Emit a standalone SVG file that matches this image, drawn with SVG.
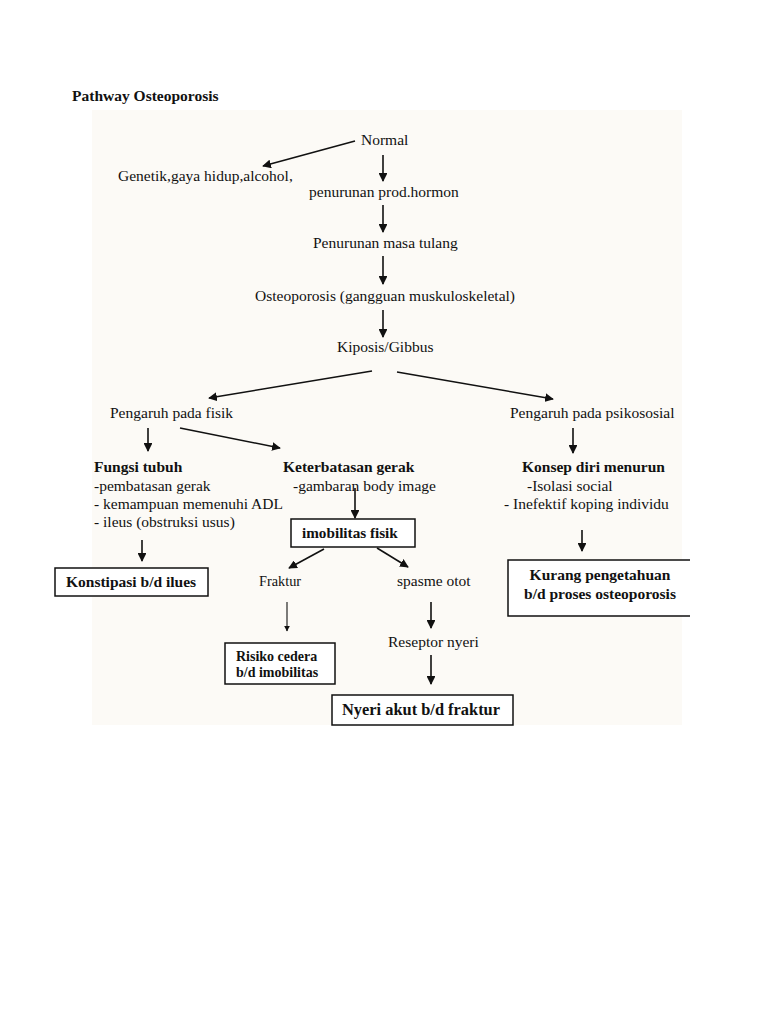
<svg xmlns="http://www.w3.org/2000/svg" width="768" height="1024" viewBox="0 0 768 1024">
<style>
text{font-family:"Liberation Serif","Times New Roman",serif;fill:#111}
.t{font-size:15.5px}
.b{font-size:15.5px;font-weight:bold}
.s{font-size:15.5px}
.sb{font-size:14px;font-weight:bold}
.c line{stroke:#111;stroke-width:1.6;marker-end:url(#ah)}
.box{fill:#fff;stroke:#111;stroke-width:1.5}
</style>
<defs>
<marker id="ah" viewBox="0 0 10 10" refX="9" refY="5" markerWidth="5.5" markerHeight="5.5" orient="auto" markerUnits="strokeWidth">
<path d="M0,0 L10,5 L0,10 z" fill="#111"/>
</marker>
</defs>
<rect width="768" height="1024" fill="#fff"/>
<rect x="92" y="110" width="590" height="615" fill="#fcfaf6"/>
<text x="72" y="101" class="b" id="title">Pathway Osteoporosis</text>

<g class="c" id="connectors">
<line x1="355" y1="141" x2="263" y2="166"/>
<line x1="383" y1="155" x2="383" y2="181"/>
<line x1="383" y1="205" x2="383" y2="232"/>
<line x1="383" y1="256" x2="383" y2="284"/>
<line x1="383" y1="310" x2="383" y2="337"/>
<line x1="372" y1="371" x2="209" y2="398"/>
<line x1="397" y1="372" x2="553" y2="399"/>
<line x1="148" y1="428" x2="148" y2="451"/>
<line x1="180" y1="428" x2="280" y2="448"/>
<line x1="573" y1="428" x2="573" y2="453"/>
<line x1="355" y1="488" x2="355" y2="518"/>
<line x1="142" y1="540" x2="142" y2="561"/>
<line x1="582" y1="530" x2="582" y2="551"/>
<line x1="324" y1="549" x2="289" y2="568"/>
<line x1="377" y1="548" x2="408" y2="567"/>
<line x1="287" y1="602" x2="287" y2="631" style="stroke-width:1.1"/>
<line x1="431" y1="602" x2="431" y2="628"/>
<line x1="431" y1="655" x2="431" y2="684"/>
</g>

<g id="normal"><text x="361" y="145" class="t">Normal</text></g>
<g id="genetik"><text x="118" y="181" class="t">Genetik,gaya hidup,alcohol,</text></g>
<g id="hormon"><text x="309" y="197" class="t">penurunan prod.hormon</text></g>
<g id="masa"><text x="313" y="248" class="t">Penurunan masa tulang</text></g>
<g id="osteo"><text x="255" y="301" class="t">Osteoporosis (gangguan muskuloskeletal)</text></g>
<g id="kiposis"><text x="337" y="352" class="t">Kiposis/Gibbus</text></g>
<g id="fisik"><text x="110" y="418" class="t">Pengaruh pada fisik</text></g>
<g id="psiko"><text x="510" y="418" class="t">Pengaruh pada psikososial</text></g>
<g id="fungsi">
<text x="94" y="472" class="b">Fungsi tubuh</text>
<text x="94" y="491" class="t">-pembatasan gerak</text>
<text x="94" y="509" class="t">- kemampuan memenuhi ADL</text>
<text x="94" y="527" class="t">- ileus (obstruksi usus)</text>
</g>
<g id="keterbatasan">
<text x="283" y="472" class="b">Keterbatasan gerak</text>
<text x="293" y="491" class="t">-gambaran body image</text>
</g>
<g id="konsep">
<text x="522" y="472" class="b">Konsep diri menurun</text>
<text x="527" y="491" class="t">-Isolasi social</text>
<text x="504" y="509" class="t">- Inefektif koping individu</text>
</g>
<g id="imobilitas">
<rect x="291" y="519" width="124" height="28" class="box"/>
<text x="302" y="538" class="b" style="font-size:15.2px">imobilitas fisik</text>
</g>
<g id="konstipasi">
<rect x="55" y="568" width="153" height="28" class="box"/>
<text x="66" y="587" class="b">Konstipasi b/d ilues</text>
</g>
<g id="fraktur"><text x="259" y="586" class="t" style="font-size:14.3px">Fraktur</text></g>
<g id="spasme"><text x="397" y="586" class="s">spasme otot</text></g>
<g id="kurang">
<rect x="508" y="560" width="182" height="56" fill="#fff"/>
<path d="M690,560 H508 V616 H690" fill="none" stroke="#111" stroke-width="1.5"/>
<text x="600" y="580" class="b" text-anchor="middle">Kurang pengetahuan</text>
<text x="600" y="599" class="b" text-anchor="middle">b/d proses osteoporosis</text>
</g>
<g id="reseptor"><text x="388" y="647" class="s">Reseptor nyeri</text></g>
<g id="risiko">
<rect x="225" y="643" width="110" height="41" class="box"/>
<text x="236" y="661" class="sb">Risiko cedera</text>
<text x="236" y="677" class="sb">b/d imobilitas</text>
</g>
<g id="nyeri">
<rect x="332" y="695" width="181" height="30" class="box"/>
<text x="342" y="715" class="b" style="font-size:16.4px">Nyeri akut b/d fraktur</text>
</g>
</svg>
